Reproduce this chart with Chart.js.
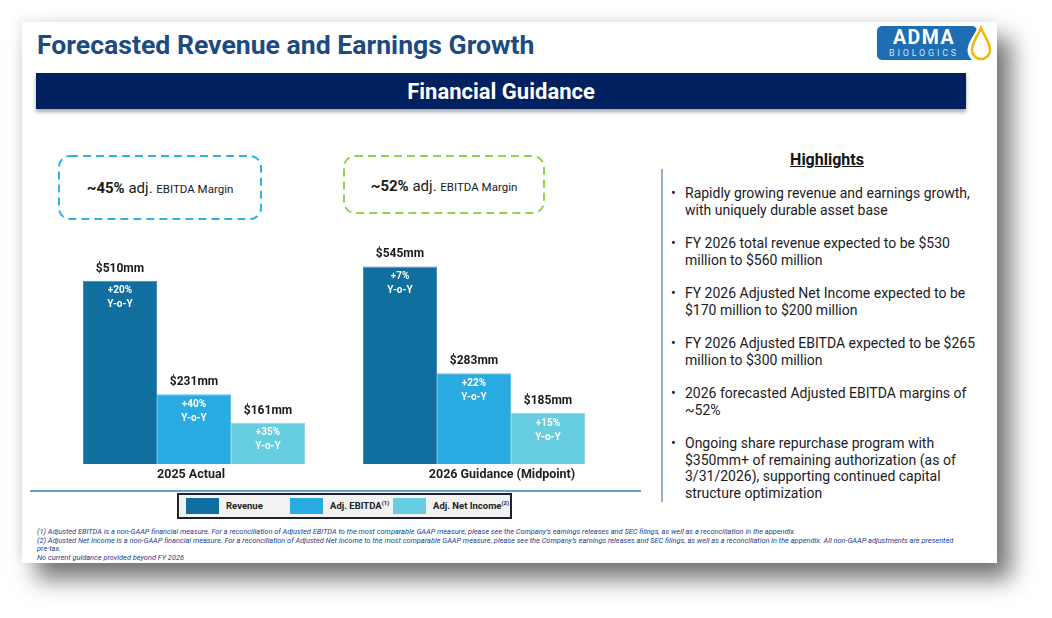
<!DOCTYPE html>
<html>
<head>
<meta charset="utf-8">
<script src="https://cdn.jsdelivr.net/npm/chart.js@4.4.1/dist/chart.umd.min.js"></script>
<style>
  html, body { margin:0; padding:0; width:1052px; height:618px; background:#ffffff; overflow:hidden; font-family: Roboto, "Noto Sans", Arial, sans-serif; }
  .abs { position:absolute; }
  #slide { left:22px; top:22px; width:975px; height:541px; background:#fff;
           box-shadow: 14px 16px 22px rgba(0,0,0,0.55), -3px -3px 10px rgba(0,0,0,0.07); }
  #title { left:37px; top:32px; font-size:26.6px; line-height:26px; font-weight:700; color:#1d4a80; white-space:nowrap; }
  #banner { left:36px; top:73px; width:930px; height:36px; background:#002060; color:#fff; font-weight:700; font-size:22px; line-height:37px; text-align:center; box-shadow:0 3px 4px rgba(0,0,0,0.35); }
  .marg { font-size:15px; color:#1a1a1a; white-space:nowrap; text-align:center; }
  .marg b { font-weight:700; }
  .marg small { font-size:11.5px; }
  #hl { left:740px; width:174px; top:150px; text-align:center; font-size:16px; font-weight:700; color:#141414; text-decoration:underline; line-height:20px; }
  #vline { left:661px; top:169px; width:2px; height:333px; background:#8fb0d2; }
  .bul { left:671px; font-size:14px; line-height:16.7px; color:#1b1b1f; white-space:nowrap; }
  .bul span.d { position:absolute; left:0; top:0; }
  .bul div { position:absolute; left:14px; top:0; }
  #hline { left:30px; top:490px; width:611px; height:1.5px; background:#5fa2d8; }
  #legend { left:177px; top:493px; width:331px; height:22px; border:2px solid #1e2230; background:#f2f2f2; }
  .sw { position:absolute; top:3px; width:33px; height:16px; }
  .lt { position:absolute; top:4px; font-size:9.5px; font-weight:700; color:#222; white-space:nowrap; line-height:14px; }
  .lt sup { font-size:6px; vertical-align:4px; line-height:0; }
  #foot { left:37px; top:528px; font-size:7.4px; line-height:8.6px; font-style:italic; color:#23408e; white-space:nowrap; }
  #chartc { left:54px; top:240px; }
</style>
</head>
<body>
<div id="slide" class="abs"></div>
<div id="title" class="abs">Forecasted Revenue and Earnings Growth</div>

<svg class="abs" style="left:877px;top:25px" width="120" height="40" viewBox="0 0 120 40">
  <rect x="0" y="1" width="100" height="34" rx="5" fill="#1f6db5"/>
  <path d="M104,1 C101,10 93,17 93,25 A11,11 0 0 0 115,25 C115,17 107,10 104,1 Z" fill="#ffffff" stroke="#ffffff" stroke-width="5"/>
  <path d="M104,3 C101,11 95,17 95,25 A9,9 0 0 0 113,25 C113,17 107,11 104,3 Z" fill="#ffffff" stroke="#f2b705" stroke-width="2.5"/>
  <text x="47" y="19" text-anchor="middle" font-family="Roboto, Arial, sans-serif" font-weight="700" font-size="19.5" fill="#ffffff" letter-spacing="1.5">ADMA</text>
  <text x="47" y="31" text-anchor="middle" font-family="Roboto, Arial, sans-serif" font-weight="400" font-size="9" fill="#cfe6fa" letter-spacing="2.8">BIOLOGICS</text>
</svg>

<div id="banner" class="abs">Financial Guidance</div>

<svg class="abs" style="left:0;top:0" width="640" height="240">
  <rect x="59" y="156" width="202" height="63" rx="11" fill="none" stroke="#29b5e8" stroke-width="2" stroke-dasharray="8 5"/>
  <rect x="344" y="156" width="200" height="57" rx="11" fill="none" stroke="#92d050" stroke-width="2" stroke-dasharray="8 5"/>
</svg>
<div class="abs marg" style="left:59px;width:202px;top:178px;line-height:20px"><b>~45%</b> adj. <small>EBITDA Margin</small></div>
<div class="abs marg" style="left:344px;width:200px;top:176px;line-height:20px"><b>~52%</b> adj. <small>EBITDA Margin</small></div>

<canvas id="chartc" class="abs" width="560" height="245"></canvas>

<div id="hline" class="abs"></div>
<div id="legend" class="abs">
  <div class="sw" style="left:7px;background:#116fa0"></div>
  <div class="lt" style="left:47px">Revenue</div>
  <div class="sw" style="left:111px;background:#29abe2"></div>
  <div class="lt" style="left:151px">Adj. EBITDA<sup>(1)</sup></div>
  <div class="sw" style="left:214px;background:#67cde0"></div>
  <div class="lt" style="left:254px">Adj. Net Income<sup>(2)</sup></div>
</div>

<div id="hl" class="abs">Highlights</div>
<div id="vline" class="abs"></div>
<div class="abs bul" style="top:185px"><span class="d">•</span><div>Rapidly growing revenue and earnings growth,<br>with uniquely durable asset base</div></div>
<div class="abs bul" style="top:235px"><span class="d">•</span><div>FY 2026 total revenue expected to be $530<br>million to $560 million</div></div>
<div class="abs bul" style="top:285px"><span class="d">•</span><div>FY 2026 Adjusted Net Income expected to be<br>$170 million to $200 million</div></div>
<div class="abs bul" style="top:335px"><span class="d">•</span><div>FY 2026 Adjusted EBITDA expected to be $265<br>million to $300 million</div></div>
<div class="abs bul" style="top:385px"><span class="d">•</span><div>2026 forecasted Adjusted EBITDA margins of<br>~52%</div></div>
<div class="abs bul" style="top:435px"><span class="d">•</span><div>Ongoing share repurchase program with<br>$350mm+ of remaining authorization (as of<br>3/31/2026), supporting continued capital<br>structure optimization</div></div>

<div id="foot" class="abs">(1) Adjusted EBITDA is a non-GAAP financial measure. For a reconciliation of Adjusted EBITDA to the most comparable GAAP measure, please see the Company’s earnings releases and SEC filings, as well as a reconciliation in the appendix.<br>(2) Adjusted Net Income is a non-GAAP financial measure. For a reconciliation of Adjusted Net Income to the most comparable GAAP measure, please see the Company’s earnings releases and SEC filings, as well as a reconciliation in the appendix. All non-GAAP adjustments are presented<br>pre-tax.<br>No current guidance provided beyond FY 2026</div>

<script>
const categories = ['2025 Actual', '2026 Guidance (Midpoint)'];
const seriesNames = ['Revenue', 'Adj. EBITDA', 'Adj. Net Income'];
const revenue = [510, 545];
const adjEbitda = [231, 283];
const adjNetIncome = [161, 185];
const yoyRevenue = ['+20%', '+7%'];
const yoyEbitda = ['+40%', '+22%'];
const yoyNetIncome = ['+35%', '+15%'];

const seriesValues = [revenue, adjEbitda, adjNetIncome];
const seriesYoy = [yoyRevenue, yoyEbitda, yoyNetIncome];
const fillColors = ['#116fa0', '#29abe2', '#67cde0'];
const edgeColors = ['#3f8bbf', '#5cc0ec', '#8ddbe9'];
const catLabelShift = [-3, 28];

const labelPlugin = {
  id: 'barLabels',
  afterDatasetsDraw(chart) {
    const ctx = chart.ctx;
    ctx.save();
    ctx.textAlign = 'center';
    ctx.textBaseline = 'middle';
    chart.data.datasets.forEach((ds, di) => {
      const meta = chart.getDatasetMeta(di);
      meta.data.forEach((bar, i) => {
        const v = ds.data[i];
        ctx.fillStyle = '#1a1a1a';
        ctx.font = '700 12px Roboto, Arial, sans-serif';
        ctx.fillText('$' + v + 'mm', bar.x, bar.y - 12);
        ctx.fillStyle = '#ffffff';
        ctx.font = '700 10px Roboto, Arial, sans-serif';
        ctx.fillText(seriesYoy[di][i], bar.x, bar.y + 10);
        ctx.fillText('Y-o-Y', bar.x, bar.y + 24);
      });
    });
    const xs = chart.scales.x;
    ctx.fillStyle = '#1e1e1e';
    ctx.font = '700 12.5px Roboto, Arial, sans-serif';
    categories.forEach((c, i) => {
      ctx.fillText(c, xs.getPixelForValue(i) + catLabelShift[i], chart.chartArea.bottom + 11);
    });
    ctx.restore();
  }
};

new Chart(document.getElementById('chartc'), {
  type: 'bar',
  data: {
    labels: categories,
    datasets: seriesNames.map((n, k) => ({
      label: n,
      data: seriesValues[k],
      backgroundColor: fillColors[k],
      borderColor: edgeColors[k],
      borderWidth: 1,
      categoryPercentage: 0.793,
      barPercentage: 1.0
    }))
  },
  options: {
    responsive: false,
    animation: false,
    devicePixelRatio: 1,
    layout: { padding: { top: 0, bottom: 21, left: 0, right: 0 } },
    plugins: { legend: { display: false }, tooltip: { enabled: false } },
    scales: {
      x: { display: false, grid: { display: false } },
      y: { display: false, min: 60, max: 610, grid: { display: false } }
    }
  },
  plugins: [labelPlugin]
});
</script>
</body>
</html>
